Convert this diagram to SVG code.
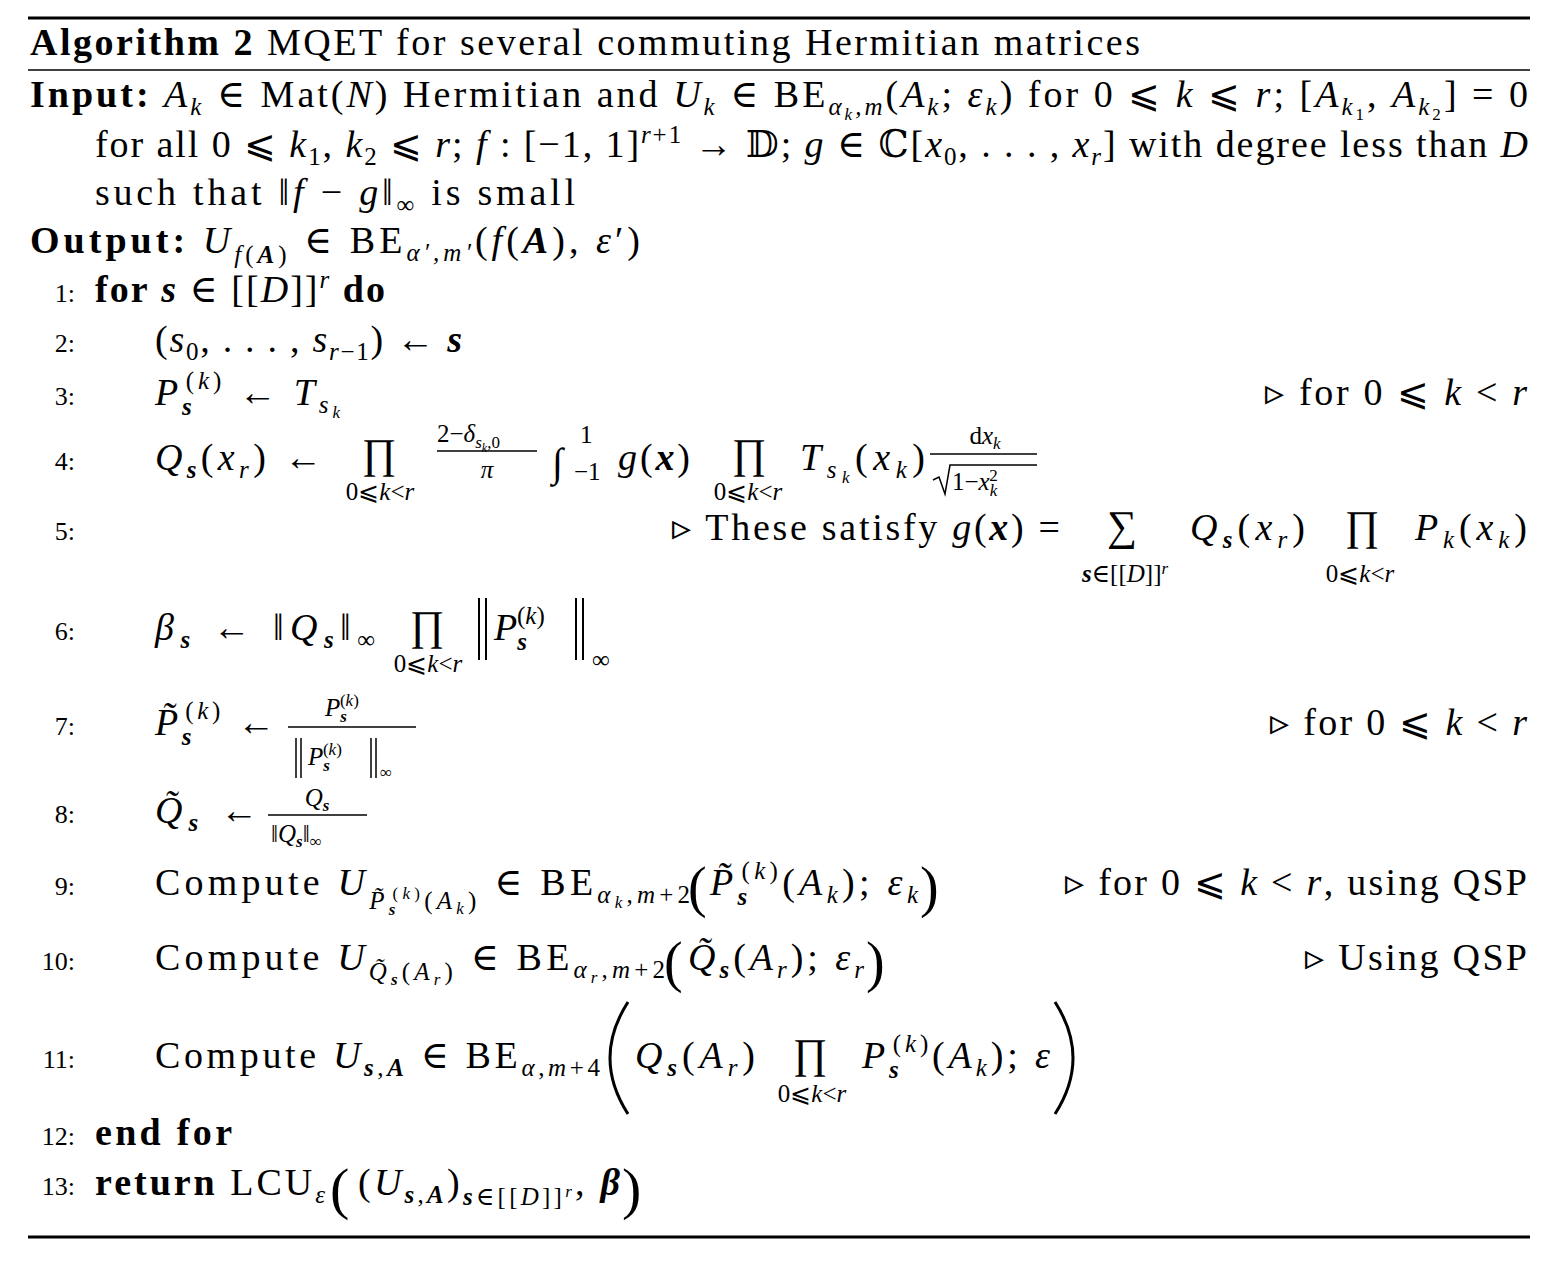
<svg xmlns="http://www.w3.org/2000/svg" width="1556" height="1262" viewBox="0 0 1556 1262">
<style>
text{font-family:"Liberation Serif","DejaVu Serif",serif;fill:#000}
.r{font-size:38px}
.s{font-size:25px}
.t{font-size:17px}
.n{font-size:26px}
.p{font-size:42px}
.b{font-weight:bold}
.i{font-style:italic}
.bi{font-style:italic;font-weight:bold}
.e{text-anchor:end}
.m{text-anchor:middle}
line{stroke:#000}
</style>
<rect width="1556" height="1262" fill="#fff"/>
<line x1="28" y1="18" x2="1530" y2="18" stroke-width="3"/>
<line x1="28" y1="70" x2="1530" y2="70" stroke-width="1.5"/>
<line x1="28" y1="1237" x2="1530" y2="1237" stroke-width="3"/>
<text class="r" x="30" y="55" textLength="1110"><tspan class="b">Algorithm 2</tspan> MQET for several commuting Hermitian matrices</text>
<text class="r" x="30" y="107" textLength="1498"><tspan class="b">Input:</tspan>  <tspan class="i">A</tspan><tspan class="s i" dy="8">k</tspan><tspan dy="-8"> ∈ Mat(</tspan><tspan class="i">N</tspan>) Hermitian and <tspan class="i">U</tspan><tspan class="s i" dy="8">k</tspan><tspan dy="-8"> ∈ BE</tspan><tspan class="s i" dy="8">α</tspan><tspan class="t i" dy="5">k</tspan><tspan class="s i" dy="-5">,m</tspan><tspan dy="-8">(</tspan><tspan class="i">A</tspan><tspan class="s i" dy="8">k</tspan><tspan dy="-8">; </tspan><tspan class="i">ε</tspan><tspan class="s i" dy="8">k</tspan><tspan dy="-8">) for 0 ⩽ </tspan><tspan class="i">k</tspan> ⩽ <tspan class="i">r</tspan>; [<tspan class="i">A</tspan><tspan class="s i" dy="8">k</tspan><tspan class="t" dy="5">1</tspan><tspan dy="-13">, </tspan><tspan class="i">A</tspan><tspan class="s i" dy="8">k</tspan><tspan class="t" dy="5">2</tspan><tspan dy="-13">] = 0</tspan></text>
<text class="r" x="95" y="157" textLength="1433">for all 0 ⩽ <tspan class="i">k</tspan><tspan class="s" dy="8">1</tspan><tspan dy="-8">, </tspan><tspan class="i">k</tspan><tspan class="s" dy="8">2</tspan><tspan dy="-8"> ⩽ </tspan><tspan class="i">r</tspan>; <tspan class="i">f</tspan> : [−1, 1]<tspan class="s" dy="-14"><tspan class="i">r</tspan>+1</tspan><tspan dy="14"> → 𝔻; </tspan><tspan class="i">g</tspan> ∈ ℂ[<tspan class="i">x</tspan><tspan class="s" dy="8">0</tspan><tspan dy="-8">, . . . , </tspan><tspan class="i">x</tspan><tspan class="s i" dy="8">r</tspan><tspan dy="-8">] with degree less than </tspan><tspan class="i">D</tspan></text>
<text class="r" x="95" y="205" textLength="480">such that ‖<tspan class="i">f</tspan> − <tspan class="i">g</tspan>‖<tspan class="s" dy="8">∞</tspan><tspan dy="-8"> is small</tspan></text>
<text class="r" x="30" y="253" textLength="610"><tspan class="b">Output:</tspan>  <tspan class="i">U</tspan><tspan class="s" dy="10"><tspan class="i">f</tspan>(<tspan class="bi">A</tspan>)</tspan><tspan dy="-10"> ∈ BE</tspan><tspan class="s i" dy="8">α′,m′</tspan><tspan dy="-8">(</tspan><tspan class="i">f</tspan>(<tspan class="bi">A</tspan>), <tspan class="i">ε</tspan>′)</text>
<g id="linenos">
<text class="n e" x="75" y="302">1:</text><text class="n e" x="75" y="352">2:</text><text class="n e" x="75" y="405">3:</text><text class="n e" x="75" y="470">4:</text><text class="n e" x="75" y="540">5:</text><text class="n e" x="75" y="640">6:</text><text class="n e" x="75" y="735">7:</text><text class="n e" x="75" y="823">8:</text><text class="n e" x="75" y="895">9:</text><text class="n e" x="75" y="970">10:</text><text class="n e" x="75" y="1068">11:</text><text class="n e" x="75" y="1145">12:</text><text class="n e" x="75" y="1195">13:</text>
</g>
<text class="r" x="95" y="302" textLength="290"><tspan class="b">for</tspan> <tspan class="bi">s</tspan> ∈ [[<tspan class="i">D</tspan>]]<tspan class="s i" dy="-14">r</tspan><tspan class="b" dy="14">  do</tspan></text>
<text class="r" x="155" y="352" textLength="307">(<tspan class="i">s</tspan><tspan class="s" dy="8">0</tspan><tspan dy="-8">, . . . , </tspan><tspan class="i">s</tspan><tspan class="s" dy="8"><tspan class="i">r</tspan>−1</tspan><tspan dy="-8">) ← </tspan><tspan class="bi">s</tspan></text>
<text class="r" x="155" y="405" textLength="185"><tspan class="i">P</tspan><tspan class="s bi" dy="10">s</tspan><tspan class="s" dx="-10" dy="-26">(<tspan class="i">k</tspan>)</tspan><tspan dy="16"> ← </tspan><tspan class="i">T</tspan><tspan class="s i" dy="8">s</tspan><tspan class="t i" dy="5">k</tspan></text>
<text class="r" x="1265" y="405" textLength="262">▹ for 0 ⩽ <tspan class="i">k</tspan> &lt; <tspan class="i">r</tspan></text>
<!-- line 4 -->
<text class="r" x="155" y="470" textLength="167"><tspan class="i">Q</tspan><tspan class="s bi" dy="8">s</tspan><tspan dy="-8">(</tspan><tspan class="i">x</tspan><tspan class="s i" dy="8">r</tspan><tspan dy="-8">) ←</tspan></text>
<text class="p" x="362" y="468">∏</text>
<text class="s m" x="380" y="500">0⩽<tspan class="i">k</tspan>&lt;<tspan class="i">r</tspan></text>
<text class="s" x="437" y="442">2−<tspan class="i">δ</tspan><tspan class="t i" dy="6">s</tspan><tspan class="t i" style="font-size:12px" dy="4">k</tspan><tspan class="t" dy="-4">,0</tspan></text>
<line x1="437" y1="451" x2="537" y2="451" stroke-width="1.3"/>
<text class="s m i" x="487" y="478">π</text>
<text x="552" y="476" style="font-size:40px">∫</text>
<text class="s" x="580" y="443">1</text><text class="s" x="574" y="480">−1</text>
<text class="r" x="618" y="470" textLength="72"><tspan class="i">g</tspan>(<tspan class="bi">x</tspan>)</text>
<text class="p" x="732" y="468">∏</text>
<text class="s m" x="748" y="500">0⩽<tspan class="i">k</tspan>&lt;<tspan class="i">r</tspan></text>
<text class="r" x="800" y="470" textLength="125"><tspan class="i">T</tspan><tspan class="s i" dy="8">s</tspan><tspan class="t i" dy="5">k</tspan><tspan dy="-13">(</tspan><tspan class="i">x</tspan><tspan class="s i" dy="8">k</tspan><tspan dy="-8">)</tspan></text>
<text class="s m" x="985" y="444">d<tspan class="i">x</tspan><tspan class="t i" dy="5">k</tspan></text>
<line x1="930" y1="454" x2="1037" y2="454" stroke-width="1.3"/>
<path d="M933,480 L939,477 L945,494 L950,465 L1037,465" fill="none" stroke="#000" stroke-width="1.5"/>
<text class="s" x="952" y="490">1−<tspan class="i">x</tspan><tspan class="t i" dy="6">k</tspan><tspan class="t" dy="-15" dx="-8">2</tspan></text>
<!-- line 5 -->
<text class="r" x="672" y="540" textLength="388">▹ These satisfy <tspan class="i">g</tspan>(<tspan class="bi">x</tspan>) =</text>
<text class="p" x="1107" y="540">∑</text>
<text class="s m" x="1125" y="582"><tspan class="bi">s</tspan>∈[[<tspan class="i">D</tspan>]]<tspan class="t i" dy="-8">r</tspan></text>
<text class="r" x="1190" y="540" textLength="115"><tspan class="i">Q</tspan><tspan class="s bi" dy="8">s</tspan><tspan dy="-8">(</tspan><tspan class="i">x</tspan><tspan class="s i" dy="8">r</tspan><tspan dy="-8">)</tspan></text>
<text class="p" x="1345" y="540">∏</text>
<text class="s m" x="1360" y="582">0⩽<tspan class="i">k</tspan>&lt;<tspan class="i">r</tspan></text>
<text class="r" x="1415" y="540" textLength="112"><tspan class="i">P</tspan><tspan class="s i" dy="8">k</tspan><tspan dy="-8">(</tspan><tspan class="i">x</tspan><tspan class="s i" dy="8">k</tspan><tspan dy="-8">)</tspan></text>
<!-- line 6 -->
<text class="r" x="155" y="640" textLength="220"><tspan class="i">β</tspan><tspan class="s bi" dy="8">s</tspan><tspan dy="-8"> ← ‖</tspan><tspan class="i">Q</tspan><tspan class="s bi" dy="8">s</tspan><tspan dy="-8">‖</tspan><tspan class="s" dy="8">∞</tspan></text>
<text class="p" x="410" y="640">∏</text>
<text class="s m" x="428" y="672">0⩽<tspan class="i">k</tspan>&lt;<tspan class="i">r</tspan></text>
<line x1="479" y1="598" x2="479" y2="660" stroke-width="2"/><line x1="486" y1="598" x2="486" y2="660" stroke-width="2"/>
<text class="r" x="494" y="640"><tspan class="i">P</tspan><tspan class="s bi" dy="10">s</tspan><tspan class="s" dx="-10" dy="-26">(<tspan class="i">k</tspan>)</tspan></text>
<line x1="576" y1="598" x2="576" y2="660" stroke-width="2"/><line x1="583" y1="598" x2="583" y2="660" stroke-width="2"/>
<text class="s" x="592" y="668">∞</text>
<!-- line 7 -->
<text class="r" x="155" y="735" textLength="120"><tspan class="i">P̃</tspan><tspan class="s bi" dy="10">s</tspan><tspan class="s" dx="-10" dy="-26">(<tspan class="i">k</tspan>)</tspan><tspan dy="16"> ←</tspan></text>
<text class="s" x="325" y="716"><tspan class="i">P</tspan><tspan class="t bi" dy="6">s</tspan><tspan class="t" dx="-7" dy="-16">(<tspan class="i">k</tspan>)</tspan></text>
<line x1="288" y1="727" x2="416" y2="727" stroke-width="1.3"/>
<line x1="296" y1="738" x2="296" y2="778" stroke-width="1.5"/><line x1="301" y1="738" x2="301" y2="778" stroke-width="1.5"/>
<text class="s" x="308" y="765"><tspan class="i">P</tspan><tspan class="t bi" dy="6">s</tspan><tspan class="t" dx="-7" dy="-16">(<tspan class="i">k</tspan>)</tspan></text>
<line x1="371" y1="738" x2="371" y2="778" stroke-width="1.5"/><line x1="376" y1="738" x2="376" y2="778" stroke-width="1.5"/>
<text class="t" x="380" y="778">∞</text>
<text class="r" x="1270" y="735" textLength="257">▹ for 0 ⩽ <tspan class="i">k</tspan> &lt; <tspan class="i">r</tspan></text>
<!-- line 8 -->
<text class="r" x="155" y="823" textLength="103"><tspan class="i">Q̃</tspan><tspan class="s bi" dy="8">s</tspan><tspan dy="-8"> ←</tspan></text>
<text class="s m" x="317" y="806"><tspan class="i">Q</tspan><tspan class="t bi" dy="5">s</tspan></text>
<line x1="268" y1="815" x2="367" y2="815" stroke-width="1.3"/>
<text class="s" x="271" y="842">‖<tspan class="i">Q</tspan><tspan class="t bi" dy="5">s</tspan><tspan dy="-5">‖</tspan><tspan class="t" dy="5">∞</tspan></text>
<!-- line 9 -->
<text class="r" x="155" y="895" textLength="535">Compute <tspan class="i">U</tspan><tspan class="s" dy="14"><tspan class="i">P̃</tspan><tspan class="t bi" dy="6">s</tspan><tspan class="t" dx="-7" dy="-16">(<tspan class="i">k</tspan>)</tspan><tspan dy="10">(</tspan><tspan class="i">A</tspan><tspan class="t i" dy="5">k</tspan><tspan dy="-5">)</tspan></tspan><tspan dy="-14"> ∈ BE</tspan><tspan class="s i" dy="8">α</tspan><tspan class="t i" dy="5">k</tspan><tspan class="s" dy="-5">,<tspan class="i">m</tspan>+2</tspan></text>
<text x="688" y="906" style="font-size:56px">(</text>
<text class="r" x="710" y="895" textLength="208"><tspan class="i">P̃</tspan><tspan class="s bi" dy="10">s</tspan><tspan class="s" dx="-10" dy="-26">(<tspan class="i">k</tspan>)</tspan><tspan dy="16">(</tspan><tspan class="i">A</tspan><tspan class="s i" dy="8">k</tspan><tspan dy="-8">); </tspan><tspan class="i">ε</tspan><tspan class="s i" dy="8">k</tspan></text>
<text x="920" y="906" style="font-size:56px">)</text>
<text class="r" x="1065" y="895" textLength="462">▹ for 0 ⩽ <tspan class="i">k</tspan> &lt; <tspan class="i">r</tspan>, using QSP</text>
<!-- line 10 -->
<text class="r" x="155" y="970" textLength="510">Compute <tspan class="i">U</tspan><tspan class="s" dy="10"><tspan class="i">Q̃</tspan><tspan class="t bi" dy="5">s</tspan><tspan dy="-5">(</tspan><tspan class="i">A</tspan><tspan class="t i" dy="5">r</tspan><tspan dy="-5">)</tspan></tspan><tspan dy="-10"> ∈ BE</tspan><tspan class="s" dy="8"><tspan class="i">α</tspan><tspan class="t i" dy="5">r</tspan><tspan dy="-5">,</tspan><tspan class="i">m</tspan>+2</tspan></text>
<text x="664" y="981" style="font-size:56px">(</text>
<text class="r" x="688" y="970" textLength="176"><tspan class="i">Q̃</tspan><tspan class="s bi" dy="8">s</tspan><tspan dy="-8">(</tspan><tspan class="i">A</tspan><tspan class="s i" dy="8">r</tspan><tspan dy="-8">); </tspan><tspan class="i">ε</tspan><tspan class="s i" dy="8">r</tspan></text>
<text x="866" y="981" style="font-size:56px">)</text>
<text class="r" x="1305" y="970" textLength="222">▹ Using QSP</text>
<!-- line 11 -->
<text class="r" x="155" y="1068" textLength="445">Compute <tspan class="i">U</tspan><tspan class="s" dy="8"><tspan class="bi">s</tspan>,<tspan class="bi">A</tspan></tspan><tspan dy="-8"> ∈ BE</tspan><tspan class="s" dy="8"><tspan class="i">α</tspan>,<tspan class="i">m</tspan>+4</tspan></text>
<path d="M628,1002 Q592,1058 628,1114" fill="none" stroke="#000" stroke-width="3"/>
<text class="r" x="635" y="1068" textLength="120"><tspan class="i">Q</tspan><tspan class="s bi" dy="8">s</tspan><tspan dy="-8">(</tspan><tspan class="i">A</tspan><tspan class="s i" dy="8">r</tspan><tspan dy="-8">)</tspan></text>
<text class="p" x="793" y="1068">∏</text>
<text class="s m" x="812" y="1102">0⩽<tspan class="i">k</tspan>&lt;<tspan class="i">r</tspan></text>
<text class="r" x="862" y="1068" textLength="188"><tspan class="i">P</tspan><tspan class="s bi" dy="10">s</tspan><tspan class="s" dx="-10" dy="-26">(<tspan class="i">k</tspan>)</tspan><tspan dy="16">(</tspan><tspan class="i">A</tspan><tspan class="s i" dy="8">k</tspan><tspan dy="-8">); </tspan><tspan class="i">ε</tspan></text>
<path d="M1055,1002 Q1091,1058 1055,1114" fill="none" stroke="#000" stroke-width="3"/>
<text class="r b" x="95" y="1145" textLength="137">end for</text>
<text class="r" x="95" y="1195" textLength="230"><tspan class="b">return</tspan> LCU<tspan class="s i" dy="8">ε</tspan></text>
<text x="330" y="1208" style="font-size:58px">(</text>
<text class="r" x="358" y="1195" textLength="262">(<tspan class="i">U</tspan><tspan class="s" dy="8"><tspan class="bi">s</tspan>,<tspan class="bi">A</tspan></tspan><tspan dy="-8">)</tspan><tspan class="s" dy="10"><tspan class="bi">s</tspan>∈[[<tspan class="i">D</tspan>]]<tspan class="t i" dy="-8">r</tspan></tspan><tspan dy="-2">, </tspan><tspan class="bi">β</tspan></text>
<text x="622" y="1208" style="font-size:58px">)</text>
</svg>
